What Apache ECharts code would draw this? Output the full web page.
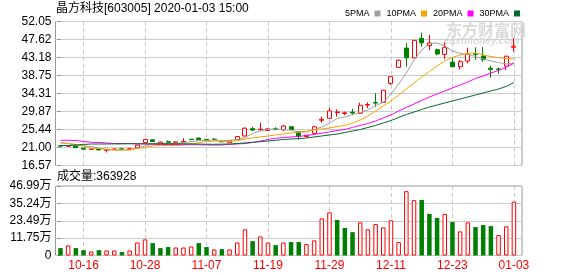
<!DOCTYPE html>
<html>
<head>
<meta charset="utf-8">
<script src="https://cdn.jsdelivr.net/npm/echarts@6/dist/echarts.min.js"></script>
<style>
  html, body { margin: 0; padding: 0; background: #fff; }
  #chart { width: 578px; height: 276px; }
</style>
</head>
<body>
<div id="chart"></div>
<script>
// 交易日 (2019-10-11 ~ 2020-01-03)
const days = [
  '10-11', '10-14', '10-15', '10-16', '10-17', '10-18', '10-21', '10-22', '10-23', '10-24',
  '10-25', '10-28', '10-29', '10-30', '10-31', '11-01', '11-04', '11-05', '11-06', '11-07',
  '11-08', '11-11', '11-12', '11-13', '11-14', '11-15', '11-18', '11-19', '11-20', '11-21',
  '11-22', '11-25', '11-26', '11-27', '11-28', '11-29', '12-02', '12-03', '12-04', '12-05',
  '12-06', '12-09', '12-10', '12-11', '12-12', '12-13', '12-16', '12-17', '12-18', '12-19',
  '12-20', '12-23', '12-24', '12-25', '12-26', '12-27', '12-30', '12-31', '01-02', '01-03'
];
const labelDays = ['10-16', '10-28', '11-07', '11-19', '11-29', '12-11', '12-23', '01-03'];

// K线
const prevClose = 21.5;
const opens = [
  21.45, 21.3, 21.6, 20.85, 20.55, 20.65, 20.3, 20.5, 20.7, 20.6,
  20.95, 22.2, 22.9, 22.05, 22.45, 22.2, 22.35, 23.05, 23.35, 23.0,
  23.05, 22.5, 22.2, 22.85, 23.85, 25.65, 25.4, 25.2, 25.65, 25.35,
  26.1, 24.9, 23.7, 24.5, 27.7, 28.2, 29.6, 29.4, 29.7, 29.45,
  31.45, 32.1, 32.15, 36.8, 40.75, 45.5, 43.1, 47.9, 46.1, 45.1,
  43.95, 42.05, 40.9, 42.3, 44.1, 43.55, 40.55, 40.35, 41.05, 45.7
];
const closes = [
  21.35, 21.45, 20.95, 20.6, 20.7, 20.4, 20.45, 20.65, 20.55, 20.7,
  21.6, 23.0, 22.5, 22.35, 22.3, 22.4, 22.5, 22.95, 22.9, 22.85,
  23.0, 22.4, 22.7, 23.7, 25.75, 25.3, 25.5, 25.6, 25.45, 26.3,
  25.4, 23.7, 24.05, 26.1, 27.95, 30.0, 29.75, 29.55, 29.5, 31.4,
  31.6, 31.95, 35.1, 38.45, 42.5, 43.1, 47.4, 46.8, 46.75, 44.05,
  45.6, 40.9, 42.15, 44.05, 43.95, 42.65, 40.2, 40.25, 43.5, 45.95
];
const lows = [
  21.2, 21.25, 20.9, 20.5, 20.5, 20.35, 19.8, 20.45, 20.5, 20.55,
  20.85, 22.1, 22.4, 22.0, 22.3, 22.1, 22.3, 22.9, 22.85, 22.8,
  22.85, 22.35, 22.15, 22.8, 23.8, 25.05, 25.1, 25.1, 25.4, 25.1,
  25.3, 22.9, 23.5, 24.3, 27.1, 28.1, 28.6, 28.95, 28.95, 29.3,
  30.7, 31.05, 32.0, 36.4, 40.6, 40.9, 43.0, 45.85, 45.0, 43.7,
  42.75, 40.8, 40.25, 41.75, 42.6, 42.15, 38.2, 39.2, 40.1, 44.6
];
const highs = [
  21.55, 21.55, 21.7, 20.9, 20.75, 20.7, 20.5, 20.7, 20.75, 20.8,
  21.7, 23.1, 23.0, 22.45, 22.75, 22.5, 23.3, 23.1, 23.4, 23.1,
  23.35, 22.55, 22.75, 23.8, 26.0, 26.1, 27.1, 25.7, 26.0, 26.6,
  26.3, 25.0, 24.1, 26.3, 28.6, 30.8, 30.4, 29.9, 30.5, 32.05,
  32.15, 34.35, 35.2, 38.5, 42.6, 46.7, 47.5, 49.3, 48.7, 45.35,
  46.9, 43.1, 42.55, 45.6, 45.7, 45.75, 41.15, 40.75, 43.6, 47.9
];

// 均线
const ma5 = [
  22.19, 21.99, 21.50, 21.45, 21.26, 20.88, 20.39, 20.39, 20.39, 20.39,
  20.88, 21.38, 21.87, 21.99, 21.99, 22.12, 22.12, 22.49, 22.68, 22.73,
  22.80, 22.73, 22.78, 22.98, 23.47, 24.46, 25.07, 25.49, 25.57, 25.44,
  25.32, 24.70, 24.83, 25.44, 26.06, 27.04, 28.15, 28.52, 29.14, 29.63,
  30.25, 31.35, 32.09, 34.19, 36.65, 39.36, 42.56, 45.03, 46.63, 46.75,
  46.01, 44.78, 44.17, 43.92, 43.43, 42.81, 42.32, 41.95, 41.58, 41.83
];
const ma10 = [
  22.12, 21.99, 21.80, 21.38, 20.76, 20.76, 20.64, 20.39, 20.39, 20.39,
  20.76, 21.01, 21.38, 21.50, 21.50, 21.50, 21.62, 21.99, 22.19, 22.49,
  22.61, 22.53, 22.44, 22.73, 23.10, 23.35, 23.60, 23.84, 24.09, 24.33,
  24.58, 24.83, 25.00, 25.32, 25.57, 25.81, 26.18, 26.43, 27.04, 27.78,
  28.77, 30.00, 31.23, 32.46, 33.94, 35.42, 36.90, 38.38, 39.73, 41.09,
  42.32, 43.18, 43.80, 44.17, 44.29, 43.80, 43.43, 43.13, 42.93, 42.81
];
const ma20 = [
  22.78, 22.78, 22.73, 22.49, 22.29, 22.24, 22.12, 21.99, 21.99, 21.99,
  21.92, 21.87, 21.80, 21.75, 21.75, 21.75, 21.70, 21.70, 21.67, 21.62,
  21.62, 21.62, 21.75, 21.87, 21.99, 22.24, 22.61, 22.98, 23.27, 23.47,
  23.60, 23.72, 23.96, 24.21, 24.51, 24.83, 25.20, 25.44, 25.94, 26.43,
  26.92, 27.54, 28.27, 29.01, 30.00, 30.86, 31.72, 32.59, 33.45, 34.19,
  34.93, 35.67, 36.41, 37.14, 38.01, 38.62, 39.36, 39.98, 40.84, 41.75
];
const ma30 = [
  21.50, 21.50, 21.62, 21.75, 21.87, 21.87, 21.87, 21.89, 21.90, 21.92,
  21.92, 21.92, 21.92, 21.92, 21.92, 21.92, 21.92, 21.87, 21.85, 21.80,
  21.80, 21.82, 21.87, 21.99, 22.12, 22.29, 22.44, 22.61, 22.78, 22.98,
  23.10, 23.17, 23.35, 23.60, 23.84, 24.09, 24.33, 24.70, 25.07, 25.44,
  25.94, 26.43, 27.04, 27.66, 28.40, 29.14, 29.75, 30.37, 30.98, 31.48,
  31.97, 32.46, 32.96, 33.45, 33.94, 34.43, 34.93, 35.42, 36.04, 37.02
];

// 成交量(手)
const volumes = [
  50000, 68000, 50000, 36000, 27000, 36000, 34000, 34000, 23000, 34000,
  88000, 109000, 84000, 50000, 57000, 54000, 54000, 61000, 84000, 57000,
  41000, 43000, 41000, 88000, 177000, 97000, 129000, 88000, 70000, 88000,
  91000, 91000, 77000, 102000, 251000, 292000, 240000, 186000, 158000, 224000,
  177000, 213000, 190000, 238000, 91000, 435000, 374000, 376000, 281000, 254000,
  281000, 226000, 163000, 224000, 192000, 206000, 199000, 138000, 197000, 363928
];

const priceTicks = [16.57, 21.00, 25.44, 29.87, 34.31, 38.75, 43.18, 47.62, 52.05];
const volTicks = [0, 117500, 234900, 352400, 469900];

const FONT = '"Liberation Sans", "Noto Sans CJK SC", sans-serif';
const UP = '#ff0000';
const DOWN = '#008000';
const GRID_LINE = '#cccccc';
const FRAME = '#999999';

const labelIdx = labelDays.map(d => days.indexOf(d));
const candleData = days.map((d, i) => [i, opens[i], closes[i], lows[i], highs[i]]);
const volData = days.map((d, i) => {
  const up = closes[i] >= (i ? closes[i - 1] : prevClose);
  return {
    value: [i, volumes[i]],
    itemStyle: up ? { color: '#fff', borderColor: UP, borderWidth: 1 } : { color: DOWN }
  };
});
const pairs = arr => arr.map((v, i) => [i, v]);

const chart = echarts.init(document.getElementById('chart'));

const xBase = () => ({
  type: 'value',
  min: -0.65,
  max: 60.05,
  axisLine: { show: false },
  axisTick: { show: false, customValues: labelIdx },
  splitLine: { show: true, lineStyle: { color: '#c8c8c8', type: [4, 3] } }
});

const maSeries = (name, data, color) => ({
  name: name,
  type: 'line',
  xAxisIndex: 0,
  yAxisIndex: 0,
  data: pairs(data),
  symbol: 'none',
  color: color,
  lineStyle: { width: 1, color: color },
  z: 3
});

const option = {
  animation: false,
  textStyle: { fontFamily: FONT },
  legend: {
    left: 340,
    top: 4,
    align: 'right',
    icon: 'rect',
    itemWidth: 6,
    itemHeight: 6,
    itemGap: 6,
    selectedMode: false,
    textStyle: { fontSize: 9, color: '#000', fontFamily: FONT },
    data: ['5PMA', '10PMA', '20PMA', '30PMA']
  },
  graphic: [
    {
      type: 'text', left: 56, top: 3,
      style: { text: '晶方科技[603005] 2020-01-03 15:00', font: '12px ' + FONT, fill: '#000' }
    },
    {
      type: 'text', left: 57, top: 171,
      style: { text: '成交量:' + volumes[volumes.length - 1], font: '12px ' + FONT, fill: '#000' }
    },
    {
      type: 'text', left: 446, top: 22, z: 1,
      style: { text: '东方财富网', font: 'bold 16px "Noto Sans CJK SC"', fill: '#dadada' }
    },
    {
      type: 'text', left: 444, top: 36, z: 1,
      style: { text: 'eastmoney.com', font: 'bold italic 10px ' + FONT, fill: '#dadada' }
    }
  ],
  grid: [
    { left: 55.5, top: 21.5, width: 466.5, height: 144, show: true, borderColor: FRAME, borderWidth: 1 },
    { left: 55.5, top: 186, width: 466.5, height: 69.5, show: true, borderColor: FRAME, borderWidth: 1 }
  ],
  xAxis: [
    Object.assign(xBase(), { gridIndex: 0, axisLabel: { show: false } }),
    Object.assign(xBase(), {
      gridIndex: 1,
      axisLabel: {
        show: true,
        customValues: labelIdx,
        formatter: v => days[Math.round(v)],
        color: UP,
        fontSize: 12,
        margin: 4
      }
    })
  ],
  yAxis: [
    {
      type: 'value',
      gridIndex: 0,
      min: priceTicks[0],
      max: priceTicks[priceTicks.length - 1],
      axisLine: { show: false },
      axisTick: { show: true, length: 3, customValues: priceTicks, lineStyle: { color: '#888' } },
      axisLabel: { customValues: priceTicks, formatter: v => v.toFixed(2), color: '#000', fontSize: 12, margin: 4 },
      splitLine: { show: true, lineStyle: { color: GRID_LINE } }
    },
    {
      type: 'value',
      gridIndex: 1,
      min: volTicks[0],
      max: volTicks[volTicks.length - 1],
      axisLine: { show: false },
      axisTick: { show: true, length: 3, customValues: volTicks, lineStyle: { color: '#888' } },
      axisLabel: {
        customValues: volTicks,
        formatter: v => (v === 0 ? '0' : (v / 10000).toFixed(2) + '万'),
        color: '#000',
        fontSize: 12,
        margin: 4
      },
      splitLine: { show: true, lineStyle: { color: GRID_LINE } }
    }
  ],
  series: [
    {
      name: 'K',
      type: 'candlestick',
      xAxisIndex: 0,
      yAxisIndex: 0,
      barWidth: 4.5,
      data: candleData,
      itemStyle: {
        color: '#ffffff',
        color0: DOWN,
        borderColor: UP,
        borderColor0: DOWN,
        borderWidth: 1
      },
      z: 2
    },
    maSeries('5PMA', ma5, '#a0a0a0'),
    maSeries('10PMA', ma10, '#f5a300'),
    maSeries('20PMA', ma20, '#ff00ff'),
    maSeries('30PMA', ma30, '#006b2c'),
    {
      name: '成交量',
      type: 'bar',
      xAxisIndex: 1,
      yAxisIndex: 1,
      barWidth: 4.5,
      data: volData
    }
  ]
};

chart.setOption(option);
</script>
</body>
</html>
